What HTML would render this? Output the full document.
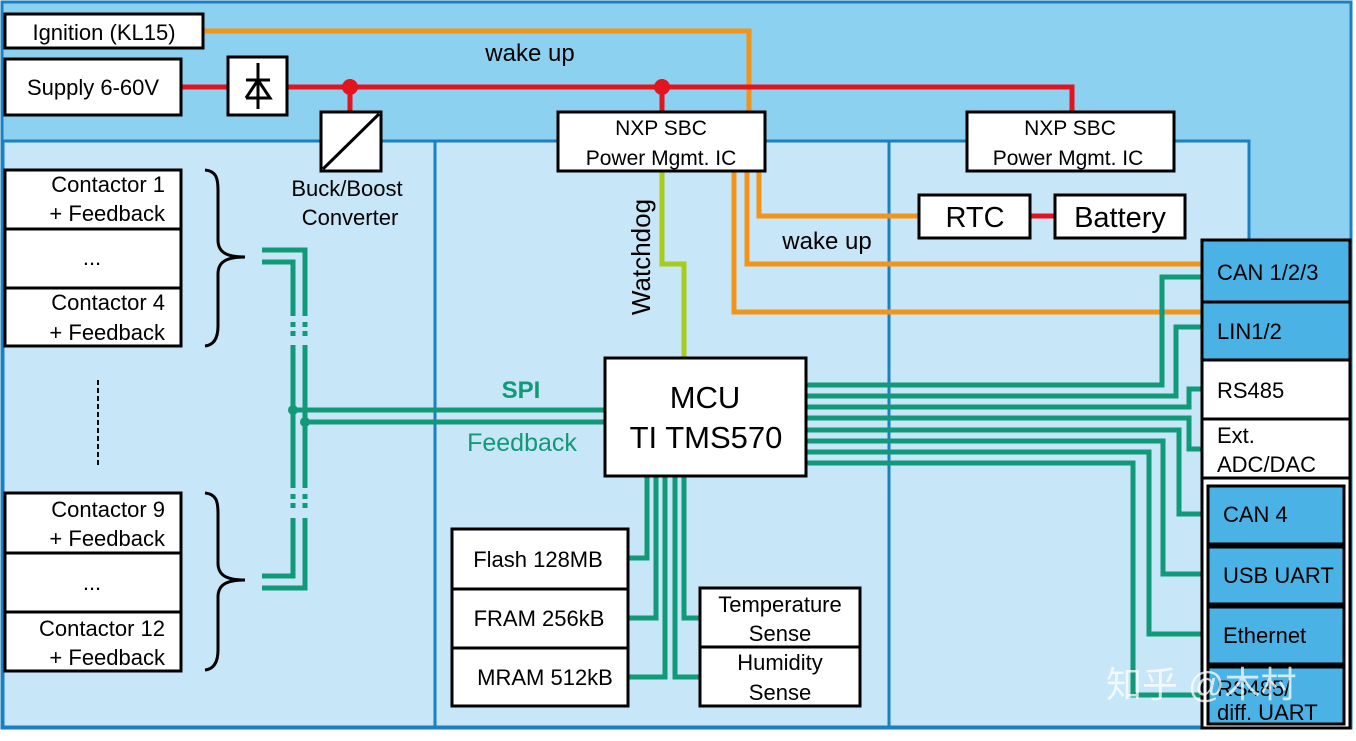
<!DOCTYPE html>
<html><head><meta charset="utf-8"><style>
html,body{margin:0;padding:0;background:#fff}
svg{display:block}
text{font-family:"Liberation Sans","Noto Sans CJK SC",sans-serif;fill:#000}
</style></head><body>
<svg width="1356" height="741" viewBox="0 0 1356 741" xmlns="http://www.w3.org/2000/svg">
<rect x="0" y="0" width="1356" height="741" fill="#fff"/>
<rect x="2" y="2" width="1349" height="726" fill="#8dd1f1" stroke="#1b80c2" stroke-width="3"/>
<rect x="3" y="141" width="432" height="586" fill="#c7e6f7" stroke="#1b80c2" stroke-width="3"/>
<rect x="435" y="141" width="454" height="586" fill="#c7e6f7" stroke="#1b80c2" stroke-width="3"/>
<rect x="889" y="141" width="360" height="586" fill="#c7e6f7" stroke="#1b80c2" stroke-width="3"/>

<g fill="none" stroke-linejoin="miter">
<polyline points="203,31 749,31 749,112" stroke="#f39419" stroke-width="5"/>
<polyline points="759,171 759,216 919,216" stroke="#f39419" stroke-width="5"/>
<polyline points="747,171 747,264 1202,264" stroke="#f39419" stroke-width="5"/>
<polyline points="734,171 734,312 1202,312" stroke="#f39419" stroke-width="5"/>
<polyline points="181,87 1072,87 1072,112" stroke="#e3141f" stroke-width="5"/>
<line x1="350" y1="87" x2="350" y2="112" stroke="#e3141f" stroke-width="5"/>
<line x1="662" y1="87" x2="662" y2="112" stroke="#e3141f" stroke-width="5"/>
<line x1="1030" y1="216" x2="1055" y2="216" stroke="#e3141f" stroke-width="5"/>
<polyline points="662,171 662,264 684,264 684,358" stroke="#a8cc1e" stroke-width="5"/>
<g stroke="#12997a" stroke-width="5">
<polyline points="806,385 1162,385 1162,277 1202,277"/>
<polyline points="806,396 1176,396 1176,327 1202,327"/>
<polyline points="806,407 1189,407 1189,389 1202,389"/>
<polyline points="806,418 1189,418 1189,449 1202,449"/>
<polyline points="806,430 1179,430 1179,514 1208,514"/>
<polyline points="806,441 1163,441 1163,574 1208,574"/>
<polyline points="806,452 1149,452 1149,634 1208,634"/>
<polyline points="806,463 1133,463 1133,695 1208,695"/>
<line x1="293" y1="410" x2="605" y2="410"/>
<line x1="305" y1="422" x2="605" y2="422"/>
<polyline points="262,250 305,250 305,316"/>
<polyline points="262,262 293,262 293,316"/>
<polyline points="305,345 305,488"/>
<polyline points="293,345 293,488"/>
<polyline points="305,518 305,588 262,588"/>
<polyline points="293,518 293,576 262,576"/>
<line x1="293" y1="322" x2="293" y2="339" stroke-dasharray="5,4"/>
<line x1="305" y1="322" x2="305" y2="339" stroke-dasharray="5,4"/>
<line x1="293" y1="494" x2="293" y2="512" stroke-dasharray="5,4"/>
<line x1="305" y1="494" x2="305" y2="512" stroke-dasharray="5,4"/>
<polyline points="647,476 647,558 628,558"/>
<polyline points="656,476 656,618 628,618"/>
<polyline points="665,476 665,677 628,677"/>
<polyline points="675,476 675,677 700,677"/>
<polyline points="684,476 684,618 700,618"/>
</g>
</g>
<circle cx="293" cy="410" r="5" fill="#12997a"/>
<circle cx="305" cy="422" r="5" fill="#12997a"/>
<circle cx="350" cy="87" r="8" fill="#e3141f"/>
<circle cx="662" cy="87" r="8" fill="#e3141f"/>

<g stroke="#000" stroke-width="3" fill="#fff">
<rect x="5" y="14" width="198" height="34"/>
<rect x="5" y="59" width="176" height="56"/>
<rect x="228" y="57" width="59" height="58"/>
<rect x="321" y="112" width="60" height="59"/>
<rect x="558" y="112" width="207" height="59"/>
<rect x="967" y="112" width="207" height="59"/>
<rect x="919" y="195" width="111" height="43"/>
<rect x="1055" y="195" width="130" height="43"/>
<rect x="605" y="358" width="201" height="118"/>
<rect x="5" y="170" width="176" height="59"/>
<rect x="5" y="229" width="176" height="59"/>
<rect x="5" y="288" width="176" height="58"/>
<rect x="5" y="493" width="176" height="60"/>
<rect x="5" y="553" width="176" height="59"/>
<rect x="5" y="612" width="176" height="59"/>
<rect x="452" y="529" width="176" height="60"/>
<rect x="452" y="589" width="176" height="59"/>
<rect x="452" y="648" width="176" height="58"/>
<rect x="700" y="588" width="160" height="59"/>
<rect x="700" y="647" width="160" height="59"/>
<rect x="1202" y="240" width="148" height="62" fill="#4ab2e5"/>
<rect x="1202" y="302" width="148" height="58" fill="#4ab2e5"/>
<rect x="1202" y="360" width="148" height="59"/>
<rect x="1202" y="419" width="148" height="59"/>
<rect x="1202" y="478" width="148" height="250"/>
<rect x="1208" y="486" width="136" height="58" fill="#4ab2e5"/>
<rect x="1208" y="547" width="136" height="57" fill="#4ab2e5"/>
<rect x="1208" y="607" width="136" height="57" fill="#4ab2e5"/>
<rect x="1208" y="667" width="136" height="57" fill="#4ab2e5"/>
</g>
<g stroke="#000" stroke-width="3" fill="none">
<line x1="258" y1="63" x2="258" y2="109"/>
<line x1="246" y1="80" x2="270" y2="80"/>
<polyline points="246,98 258,80 270,98 246,98"/>
<line x1="323" y1="169" x2="379" y2="114"/>
<path d="M205,170 C216,171 218,178 218,190 L218,240 C218,252 226,257 245,257 C226,257 218,262 218,274 L218,326 C218,338 214,345 205,346"/>
<path d="M205,493 C216,494 218,501 218,513 L218,563 C218,575 226,580 245,580 C226,580 218,585 218,597 L218,650 C218,662 214,669 205,670"/>
<line x1="98" y1="380" x2="98" y2="466" stroke-width="2" stroke-dasharray="5,3"/>
</g>

<g font-size="22">
<text x="104" y="40" text-anchor="middle">Ignition (KL15)</text>
<text x="93" y="95" text-anchor="middle">Supply 6-60V</text>
<text x="530" y="61" text-anchor="middle" font-size="24">wake up</text>
<text x="827" y="249" text-anchor="middle" font-size="24">wake up</text>
<text x="347" y="196" text-anchor="middle">Buck/Boost</text>
<text x="350" y="225" text-anchor="middle">Converter</text>
<text x="661" y="135" text-anchor="middle" font-size="21">NXP SBC</text>
<text x="661" y="165" text-anchor="middle" font-size="21">Power Mgmt. IC</text>
<text x="1070" y="135" text-anchor="middle" font-size="21">NXP SBC</text>
<text x="1068" y="165" text-anchor="middle" font-size="21">Power Mgmt. IC</text>
<text x="975" y="227" text-anchor="middle" font-size="29">RTC</text>
<text x="1120" y="227" text-anchor="middle" font-size="29">Battery</text>
<text x="641" y="266" text-anchor="middle" font-size="26" transform="rotate(-90 641 257)">Watchdog</text>
<text x="705" y="408" text-anchor="middle" font-size="31">MCU</text>
<text x="706" y="448" text-anchor="middle" font-size="31">TI TMS570</text>
<text x="521" y="398" text-anchor="middle" font-size="24" style="fill:#12997a" font-weight="bold">SPI</text>
<text x="522" y="451" text-anchor="middle" font-size="25" style="fill:#12997a">Feedback</text>
<g text-anchor="end">
<text x="165" y="192">Contactor 1</text>
<text x="165" y="221">+ Feedback</text>
<text x="165" y="310">Contactor 4</text>
<text x="165" y="340">+ Feedback</text>
<text x="165" y="517">Contactor 9</text>
<text x="165" y="546">+ Feedback</text>
<text x="165" y="636">Contactor 12</text>
<text x="165" y="665">+ Feedback</text>
</g>
<text x="92" y="265" text-anchor="middle">...</text>
<text x="92" y="590" text-anchor="middle">...</text>
<text x="538" y="567" text-anchor="middle">Flash 128MB</text>
<text x="539" y="626" text-anchor="middle">FRAM 256kB</text>
<text x="545" y="685" text-anchor="middle">MRAM 512kB</text>
<text x="780" y="612" text-anchor="middle">Temperature</text>
<text x="780" y="641" text-anchor="middle">Sense</text>
<text x="780" y="670" text-anchor="middle">Humidity</text>
<text x="780" y="700" text-anchor="middle">Sense</text>
<text x="1217" y="280">CAN 1/2/3</text>
<text x="1217" y="339">LIN1/2</text>
<text x="1217" y="398">RS485</text>
<text x="1217" y="443">Ext.</text>
<text x="1217" y="472">ADC/DAC</text>
<text x="1223" y="522">CAN 4</text>
<text x="1223" y="583">USB UART</text>
<text x="1223" y="643">Ethernet</text>
<text x="1217" y="696">RS485/</text>
<text x="1217" y="720">diff. UART</text>
</g>
<text x="1106" y="697" font-size="36" style="fill:#ffffff;fill-opacity:0.75">知乎 @木村</text>
</svg>
</body></html>
